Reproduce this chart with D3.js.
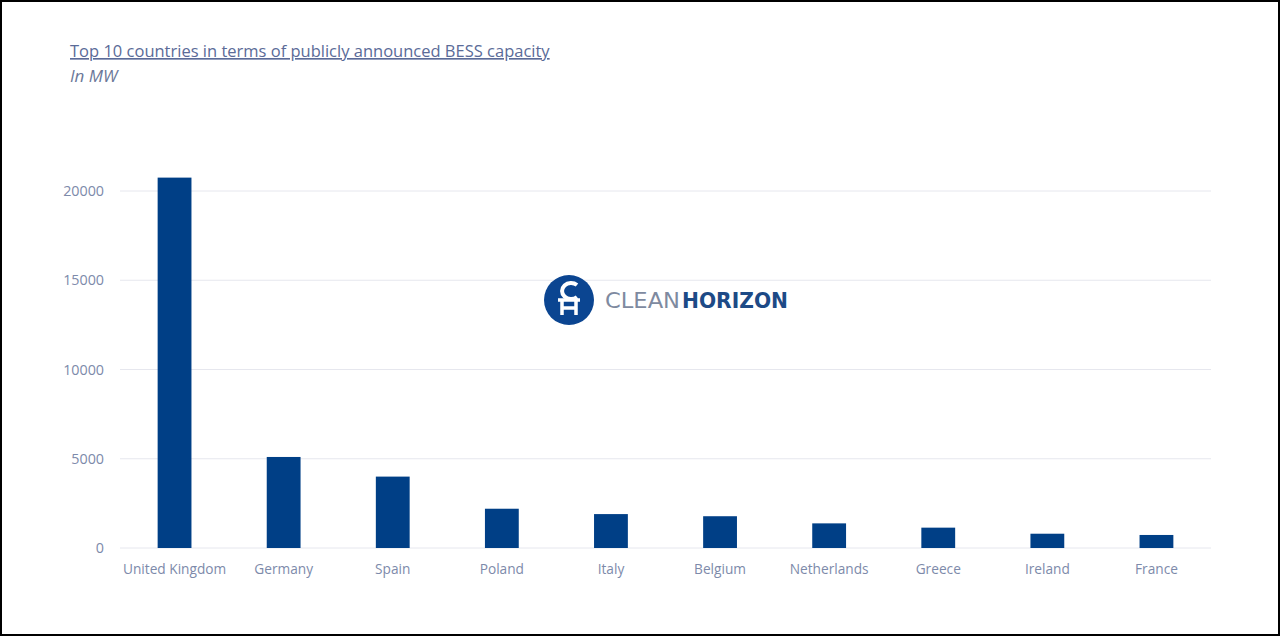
<!DOCTYPE html>
<html>
<head>
<meta charset="utf-8">
<script src="https://cdn.jsdelivr.net/npm/d3@7"></script>
<style>
  body { margin: 0; background: #fff; }
  svg { display: block; font-family: 'Open Sans', sans-serif; }
</style>
</head>
<body>
<div id="chart"></div>
<script>
// Top 10 countries - publicly announced BESS capacity (MW)
const countries = ['United Kingdom', 'Germany', 'Spain', 'Poland', 'Italy', 'Belgium', 'Netherlands', 'Greece', 'Ireland', 'France'];
const capacity = [20750, 5100, 4000, 2200, 1900, 1780, 1380, 1140, 800, 730];
const yTicks = [0, 5000, 10000, 15000, 20000];

const W = 1280, H = 636;
let margin = {top: 191, right: 69, bottom: 88, left: 120};
let width = W - margin.left - margin.right;
let height = H - margin.top - margin.bottom;

let svg = d3.select('#chart').append('svg')
  .attr('width', W)
  .attr('height', H);

// frame
svg.append('rect')
  .attr('x', 1).attr('y', 1)
  .attr('width', W - 2).attr('height', H - 2)
  .attr('fill', '#fff')
  .attr('stroke', '#000')
  .attr('stroke-width', 2);

// titles
svg.append('text')
  .attr('x', 70).attr('y', 57)
  .attr('fill', '#5b6b98')
  .style('font-size', '16.5px')
  .style('text-decoration', 'underline')
  .text('Top 10 countries in terms of publicly announced BESS capacity');
svg.append('text')
  .attr('x', 70).attr('y', 82)
  .attr('fill', '#6b7899')
  .style('font-size', '17px')
  .style('font-style', 'italic')
  .text('In MW');

let g = svg.append('g')
  .attr('transform', 'translate(' + margin.left + ',' + margin.top + ')');

let xScale = d3.scaleBand().domain(countries).range([0, width]).paddingInner(0.69).paddingOuter(0.345);
let yScale = d3.scaleLinear().domain([0, 20000]).range([height, 0]);

// gridlines
g.selectAll('.grid')
  .data(yTicks)
  .enter().append('line')
  .attr('class', 'grid')
  .attr('x1', 0).attr('x2', width)
  .attr('y1', d => yScale(d)).attr('y2', d => yScale(d))
  .attr('stroke', '#e6e7ee')
  .attr('stroke-width', 1);

// y axis
let yAxis = d3.axisLeft(yScale).tickValues(yTicks).tickSize(0).tickPadding(16).tickFormat(d3.format('d'));
g.append('g').attr('class', 'yaxis').call(yAxis)
  .call(s => s.select('.domain').remove())
  .selectAll('text')
  .attr('fill', '#7d8aaa')
  .style('font-size', '14.3px')
  .style('font-family', "'Open Sans', sans-serif");

// x axis
let xAxis = d3.axisBottom(xScale).tickSize(0).tickPadding(16);
g.append('g').attr('class', 'xaxis')
  .attr('transform', 'translate(0,' + height + ')')
  .call(xAxis)
  .call(s => s.select('.domain').remove())
  .selectAll('text')
  .attr('fill', '#7d8aaa')
  .style('font-size', '13.7px')
  .style('font-family', "'Open Sans', sans-serif");

// bars
g.selectAll('.bar')
  .data(capacity)
  .enter().append('rect')
  .attr('class', 'bar')
  .attr('x', (d, i) => xScale(countries[i]))
  .attr('width', xScale.bandwidth())
  .attr('y', d => yScale(d))
  .attr('height', d => height - yScale(d))
  .attr('fill', '#003f86');

// watermark logo
let logo = svg.append('g').attr('transform', 'translate(569,300)');
logo.append('circle').attr('r', 25).attr('fill', '#0b4591');
logo.append('path')
  .attr('d', 'M8,-15 A9,8 0 1 0 8,-3')
  .attr('fill', 'none').attr('stroke', '#fff').attr('stroke-width', 4);
logo.append('path')
  .attr('d', 'M-11,0 H11 M-7,0 V15 M7,0 V15 M-7,8 H7')
  .attr('fill', 'none').attr('stroke', '#fff').attr('stroke-width', 3.5);
let logoText = logo.append('text')
  .attr('y', 8)
  .style('font-family', "'DejaVu Sans Condensed', 'DejaVu Sans', sans-serif")
  .style('font-size', '21px');
logoText.append('tspan')
  .attr('x', 36)
  .attr('textLength', 75).attr('lengthAdjust', 'spacingAndGlyphs')
  .attr('fill', '#7e8aa0').style('font-weight', '300')
  .text('CLEAN');
logoText.append('tspan')
  .attr('x', 113)
  .attr('textLength', 106).attr('lengthAdjust', 'spacingAndGlyphs')
  .attr('fill', '#1d4a86').style('font-weight', 'bold')
  .text('HORIZON');
</script>
</body>
</html>
